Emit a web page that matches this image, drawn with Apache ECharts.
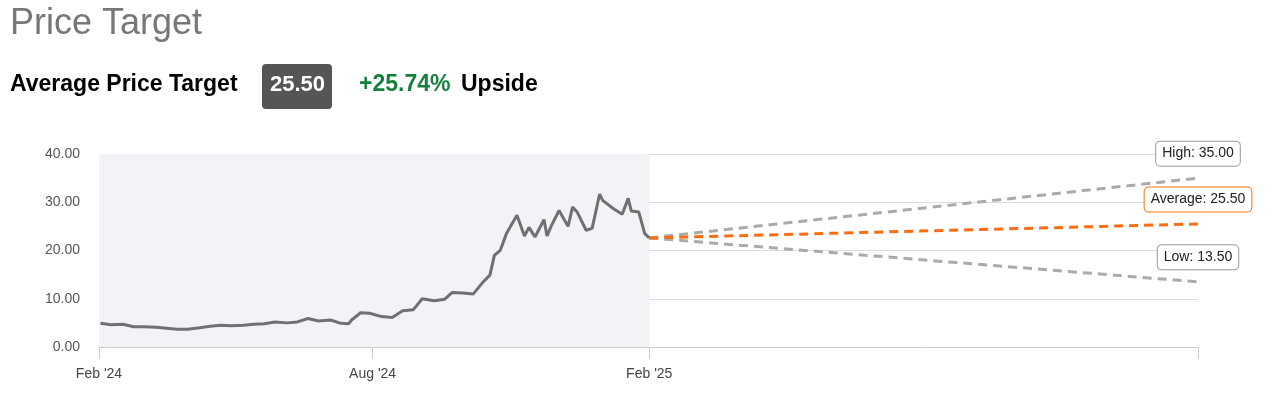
<!DOCTYPE html>
<html>
<head>
<meta charset="utf-8">
<script src="https://cdn.jsdelivr.net/npm/echarts@6/dist/echarts.min.js"></script>
<style>
html, body { margin: 0; padding: 0; background: #fff; }
#main { width: 1280px; height: 409px; }
</style>
</head>
<body>
<div id="main"></div>
<script>
// days since 1 Feb 2024
const priceDays = [1, 8, 16, 23, 30, 38, 45, 52, 59, 67, 74, 81, 88, 96, 103, 110, 117, 125, 132, 139, 146, 154, 161, 166, 168, 174, 180, 188, 195, 202, 209, 215, 223, 230, 235, 242, 249, 255, 260, 263, 267, 271, 278, 283, 286, 290, 296, 298, 301, 306, 312, 315, 318, 324, 328, 333, 335, 342, 348, 352, 354, 359, 363, 366];
const priceValues = [4.9, 4.6, 4.7, 4.2, 4.2, 4.1, 3.9, 3.7, 3.7, 4.0, 4.3, 4.5, 4.4, 4.5, 4.7, 4.8, 5.2, 5.0, 5.2, 5.9, 5.4, 5.6, 4.9, 4.8, 5.6, 7.1, 7.0, 6.3, 6.1, 7.5, 7.7, 10.0, 9.6, 9.9, 11.3, 11.2, 11.0, 13.3, 14.9, 19.0, 20.1, 23.5, 27.3, 23.0, 24.8, 22.8, 26.4, 23.0, 25.2, 28.3, 25.0, 29.0, 28.0, 24.2, 24.6, 31.7, 30.4, 28.7, 27.5, 30.8, 28.2, 28.0, 23.5, 22.6];

const forecastDays = [366, 731];
const lastPrice = 22.6;
const highTarget = 35.0;
const avgTarget = 25.5;
const lowTarget = 13.5;

const tickDays = [0, 182, 366, 731];
const tickLabels = ["Feb '24", "Aug '24", "Feb '25", ""];

const font = 'Liberation Sans, Arial, sans-serif';

const targetLine = (name, target, color, borderColor) => ({
	name: name,
	type: 'line',
	symbol: 'none',
	z: name === 'Average' ? 4 : 3,
	lineStyle: { color: color, width: 3, type: [9, 6] },
	data: [[forecastDays[0], lastPrice], [forecastDays[1], target]],
	markPoint: {
		silent: true,
		symbol: 'rect',
		symbolSize: 1,
		itemStyle: { color: 'rgba(0,0,0,0)' },
		data: [{ coord: [forecastDays[1], target] }],
		label: {
			show: true,
			position: 'top',
			distance: 12,
			formatter: name + ': ' + target.toFixed(2),
			color: '#222',
			fontFamily: font,
			fontSize: 14,
			backgroundColor: '#fff',
			borderColor: borderColor,
			borderWidth: 1,
			borderRadius: 4,
			padding: [5, 6]
		}
	}
});

const chart = echarts.init(document.getElementById('main'));
chart.setOption({
	animation: false,
	textStyle: { fontFamily: font },
	grid: { left: 99, right: 82, top: 154, bottom: 62 },
	graphic: [
		{ type: 'text', left: 10, top: 6, style: { text: 'Price Target', fontSize: 36, fill: '#777', fontFamily: font } },
		{ type: 'text', left: 10, top: 73, style: { text: 'Average Price Target', fontSize: 23, fontWeight: 'bold', fill: '#000', fontFamily: font } },
		{ type: 'rect', left: 262, top: 64, shape: { width: 70, height: 45, r: 4 }, style: { fill: '#555' } },
		{ type: 'text', left: 270, top: 74, style: { text: '25.50', fontSize: 22, fontWeight: 'bold', fill: '#fff', fontFamily: font } },
		{ type: 'text', left: 359, top: 73, style: { text: '+25.74%', fontSize: 23, fontWeight: 'bold', fill: '#17803f', fontFamily: font } },
		{ type: 'text', left: 461, top: 73, style: { text: 'Upside', fontSize: 23, fontWeight: 'bold', fill: '#000', fontFamily: font } }
	],
	xAxis: {
		type: 'value',
		min: 0,
		max: 731,
		axisLine: { show: true, lineStyle: { color: '#ccc' } },
		axisTick: { show: true, length: 12, customValues: tickDays, lineStyle: { color: '#ccc' } },
		axisLabel: {
			customValues: tickDays,
			margin: 20,
			color: '#444',
			fontSize: 14,
			formatter: v => tickLabels[tickDays.indexOf(v)] || ''
		},
		splitLine: { show: false }
	},
	yAxis: {
		type: 'value',
		min: 0,
		max: 40,
		interval: 10,
		axisLine: { show: false },
		axisTick: { show: false },
		axisLabel: { color: '#555', fontSize: 14, margin: 19, formatter: v => v.toFixed(2) },
		splitLine: { lineStyle: { color: '#ddd' } }
	},
	series: [
		{
			name: 'Price',
			type: 'line',
			symbol: 'none',
			z: 5,
			lineStyle: { color: '#707070', width: 3 },
			data: priceDays.map((d, i) => [d, priceValues[i]]),
			markArea: {
				silent: true,
				itemStyle: { color: '#f2f3f7' },
				data: [[{ xAxis: 0 }, { xAxis: 366 }]]
			}
		},
		targetLine('High', highTarget, '#aaa', '#999'),
		targetLine('Average', avgTarget, '#f96e12', '#f96e12'),
		targetLine('Low', lowTarget, '#aaa', '#999')
	]
});
</script>
</body>
</html>
